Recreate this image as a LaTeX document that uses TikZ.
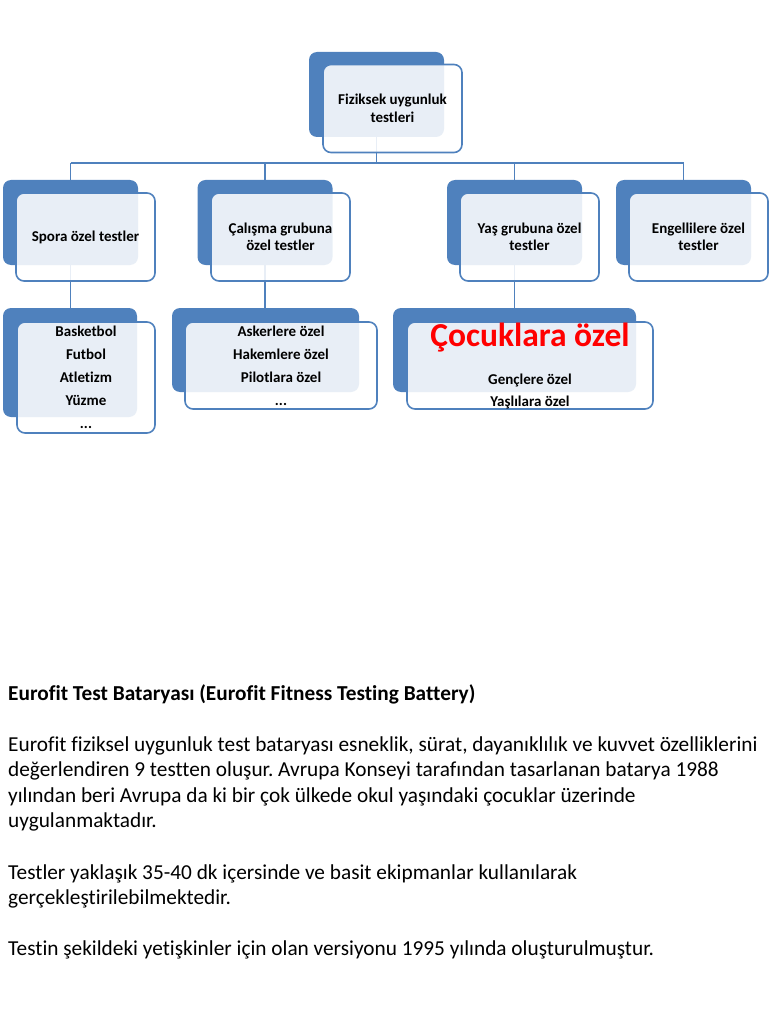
\documentclass[tikz,border=0pt]{standalone}
\usepackage{fontspec}
\setmainfont[Ligatures=NoCommon]{Carlito}
\usetikzlibrary{positioning, backgrounds}
\definecolor{eurofitBlue}{RGB}{79,129,189}
\definecolor{eurofitRed}{RGB}{255,0,0}
\frenchspacing

\begin{document}
\begin{tikzpicture}[x=1pt, y=-1pt,
      backbox/.style={rectangle, rounded corners=8pt, fill=eurofitBlue, inner sep=0pt,
      minimum width=135pt, minimum height=85pt},
      frontbox/.style={rectangle, rounded corners=8pt, draw=eurofitBlue, line width=1.6pt,
      fill=white, fill opacity=0.87, text opacity=1, inner sep=2pt, align=center,
      minimum width=139pt, minimum height=88pt, font=\bfseries\fontsize{15}{17.5}\selectfont},
      listtext/.style={font=\bfseries\fontsize{15}{17.5}\selectfont, inner sep=0pt},
      bigtext/.style={font=\bfseries\fontsize{33.5}{36}\selectfont, text=eurofitRed, inner sep=0pt},
      bodytext/.style={anchor=base west, inner sep=0pt, font=\fontsize{21.3}{25.5}\selectfont},
      link/.style={draw=eurofitBlue, line width=1.6pt}
    ]
    \useasboundingbox (0,0) rectangle (768,1024);

    % top of the hierarchy
    \node[backbox] (topB) at (376.5,94.5) {};
    \node[frontbox] (top) at (392.5,108.5) {Fiziksek uygunluk\\testleri};

    % second row
    \node[backbox] (sporaB) at (70.5,222.5) {};
    \node[frontbox] (spora) at (85.5,237) {Spora özel testler};
    \node[backbox] (calisB) at (265,222.5) {};
    \node[frontbox] (calis) at (280.5,237) {Çalışma grubuna\\özel testler};
    \node[backbox] (yasB) at (514.5,222.5) {};
    \node[frontbox] (yas) at (529.5,237) {Yaş grubuna özel\\testler};
    \node[backbox] (engelB) at (683.5,222.5) {};
    \node[frontbox] (engel) at (698.5,237) {Engellilere özel\\testler};

    % third row
    \node[backbox, minimum width=134pt, minimum height=109pt] (sporListB) at (70,362.5) {};
    \node[frontbox, minimum width=138pt, minimum height=111pt, font=\bfseries\fontsize{15}{23}\selectfont]
      (sporList) at (86,377.5) {Basketbol\\Futbol\\Atletizm\\Yüzme\\...};
    \node[backbox, minimum width=187pt, minimum height=84pt] (calListB) at (265.5,350) {};
    \node[frontbox, minimum width=192pt, minimum height=87pt, font=\bfseries\fontsize{15}{23}\selectfont]
      (calList) at (281,365.5) {Askerlere özel\\Hakemlere özel\\Pilotlara özel\\...};
    \node[backbox, minimum width=243pt, minimum height=84pt] (yasListB) at (514.5,350) {};
    \node[frontbox, minimum width=246pt, minimum height=87pt] (yasList) at (530,365.5) {};
    \node[bigtext] (cocuk) at (530,338) {Çocuklara özel};
    \node[listtext] (genc) at (530,380) {Gençlere özel};
    \node[listtext] (yasli) at (530,402) {Yaşlılara özel};

    % connectors behind the boxes
    \begin{scope}[on background layer]
      \coordinate (bus) at (0,163);
      \draw[link] (topB.south) -- (topB.south |- bus);
      \draw[link] (sporaB.north |- bus) -- (engelB.north |- bus);
      \foreach \n in {sporaB, calisB, yasB, engelB}
        \draw[link] (\n.north |- bus) -- (\n.north);
      \draw[link] (sporaB.south) -- (sporaB.south |- sporListB.north);
      \draw[link] (calisB.south) -- (calisB.south |- calListB.north);
      \draw[link] (yasB.south) -- (yasB.south |- yasListB.north);
    \end{scope}

    % text below the diagram
    \node[bodytext, font=\bfseries\fontsize{21.3}{25.5}\selectfont] (title) at (8,700)
      {Eurofit Test Bataryası (Eurofit Fitness Testing Battery)};
    \node[bodytext] (p1) at (8,751) {Eurofit fiziksel uygunluk test bataryası esneklik, sürat, dayanıklılık ve kuvvet özelliklerini};
    \node[bodytext] (p2) at (8,776.5) {değerlendiren 9 testten oluşur. Avrupa Konseyi tarafından tasarlanan batarya 1988};
    \node[bodytext] (p3) at (8,802) {yılından beri Avrupa da ki bir çok ülkede okul yaşındaki çocuklar üzerinde};
    \node[bodytext] (p4) at (8,827.5) {uygulanmaktadır.};
    \node[bodytext] (p5) at (8,879) {Testler yaklaşık 35-40 dk içersinde ve basit ekipmanlar kullanılarak};
    \node[bodytext] (p6) at (8,904.5) {gerçekleştirilebilmektedir.};
    \node[bodytext] (p7) at (8,955.5) {Testin şekildeki yetişkinler için olan versiyonu 1995 yılında oluşturulmuştur.};
  \end{tikzpicture}
\end{document}
